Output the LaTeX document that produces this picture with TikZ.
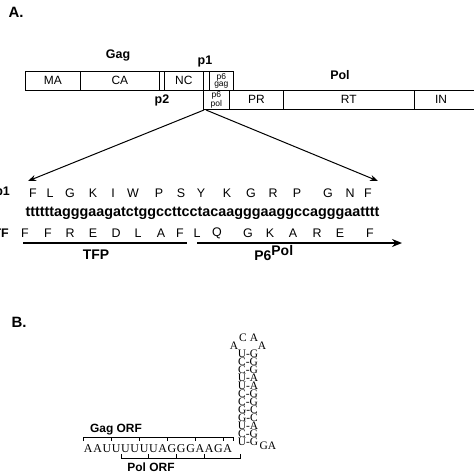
\documentclass[tikz,border=0pt]{standalone}
\usepackage{fontspec}
\setmainfont{Liberation Serif}
\setsansfont{Liberation Sans}
\usetikzlibrary{arrows.meta,positioning}
\tikzset{
  seg/.style={draw, line width=0.7bp, inner sep=0pt, anchor=north west,
    minimum height=19bp, font=\sffamily\fontsize{12}{12}\selectfont},
  small/.style={align=center, font=\sffamily\fontsize{8.5}{7.5}\selectfont},
  tag/.style={font=\sffamily\bfseries\fontsize{12.5}{13}\selectfont, inner sep=0pt},
  panel/.style={font=\sffamily\bfseries\fontsize{15}{15}\selectfont, inner sep=0pt},
  aa/.style={font=\sffamily\fontsize{12.5}{13}\selectfont, inner sep=0pt},
  nt/.style={font=\sffamily\bfseries\fontsize{14.4}{15}\selectfont, inner sep=0pt},
  rna/.style={font=\fontsize{11.5}{11}\selectfont, inner sep=0pt},
  link/.style={line width=1bp, -{Stealth[length=8bp,width=6bp]}},
  brak/.style={line width=0.6bp}
}
\begin{document}
\begin{tikzpicture}[x=1bp,y=-1bp]
    \useasboundingbox (0,0) rectangle (474,474);
    % Panel A
    \node[panel] (pa) at (16,12) {A.};
    \node[tag] (gag) at (118,55) {Gag};
    \node[tag] (pone) at (205,62) {p1};
    \node[tag] (pol) at (340,75) {Pol};
    \node[tag] (ptwo) at (162,100) {p2};
    % Gag row
    \node[seg, minimum width=55bp] (ma) at (25,71) {MA};
    \node[seg, minimum width=79bp] (ca) at (80,71) {CA};
    \node[seg, minimum width=5bp] (ptwobox) at (159,71) {};
    \node[seg, minimum width=39bp] (nc) at (164,71) {NC};
    \node[seg, minimum width=6bp] (ponebox) at (203,71) {};
    \node[seg, small, minimum width=24bp] (psixgag) at (209,71) {p6\\gag};
    % Pol row
    \node[seg, small, minimum width=26bp] (psixpol) at (203,90) {p6\\pol};
    \node[seg, minimum width=54bp] (pr) at (229,90) {PR};
    \node[seg, minimum width=131bp] (rt) at (283,90) {RT};
    \node[seg, minimum width=70bp] (inbox) at (414,90) {};
    \node[inner sep=0pt, font=\sffamily\fontsize{12}{12}\selectfont] (in) at (441,99.5) {IN};
    % Zoom in on the frameshift site
    \coordinate (fork) at (204,110);
    \coordinate (lefttip) at (28,181);
    \coordinate (righttip) at (378,181);
    \draw[link] (fork) -- (lefttip);
    \draw[link] ([xshift=2bp]fork) -- (righttip);
    % Gag-p1 frame
    \node[tag, anchor=east] (gagframe) at (10,193) {p1};
    \foreach \r/\x [count=\i] in {F/33,L/50,G/70,K/93,I/113,W/133,P/159,S/181,Y/201,K/227,G/251,R/273,P/297,G/328,N/350,F/368}
        \node[aa] (g\i) at (\x,193) {\r};
    \node[nt] (seq) at (202.5,213) {ttttttagggaagatctggccttcctacaagggaaggccagggaatttt};
    % TF frame
    \node[tag, anchor=east] (tfframe) at (9,233) {TF};
    \foreach \r/\x [count=\i] in {F/25,F/48,R/70,E/93,D/116,L/138,A/161,F/180,L/197,Q/217,G/248,K/270,A/293,R/317,E/340,F/370}
        \node[aa] (t\i) at (\x,233) {\r};
    \coordinate (tfpstart) at (23,243);
    \coordinate (tfpend) at (187,243);
    \coordinate (psixstart) at (197,243);
    \coordinate (psixend) at (402,243);
    \draw[line width=1.8bp] (tfpstart) -- (tfpend);
    \draw[line width=1.8bp, -{Stealth[length=10bp,width=8bp]}] (psixstart) -- (psixend);
    \node[tag, font=\sffamily\bfseries\fontsize{14}{14}\selectfont] (tfp) at (96,255) {TFP};
    \node[tag, font=\sffamily\bfseries\fontsize{14}{14}\selectfont] (psix) at (274,253) {P6$^{\mathrm{\textsf{Pol}}}$};
    % Panel B
    \node[panel] (pb) at (19,322) {B.};
    % loop
    \node[rna] (lc) at (243,338) {C};
    \node[rna] (la) at (254,338) {A};
    \node[rna] (lleft) at (234,346) {A};
    \node[rna] (lright) at (262,346) {A};
    % stem
    \foreach \p [count=\i] in {U-G,C-G,C-G,U-A,U-A,C-G,C-G,G-C,G-C,U-A,C-G,U-G}
        \node[rna] (st\i) at (248,346+8*\i) {\p};
    \node[rna, anchor=west] (tail) at ([xshift=1bp,yshift=-4bp]st12.east) {GA};
    % slippery sequence
    \foreach \b [count=\i] in {A,A,U,U,U,U,U,U,A,G,G,G,A,A,G,A}
        \node[rna, font=\fontsize{12}{12}\selectfont] (s\i) at (79+9.3*\i,449) {\b};
    % Gag ORF codons above
    \draw[brak] (83,441) -- (83,437) -- (233,437) -- (233,441);
    \foreach \k in {111,139,167,195,223}
        \draw[brak] (\k,437) -- (\k,441);
    \node[tag, font=\sffamily\bfseries\fontsize{12}{12}\selectfont] (gagorf) at (116,430) {Gag ORF};
    % Pol ORF codons below
    \draw[brak] (121,454) -- (121,458) -- (240,458) -- (240,454);
    \foreach \k in {148,176,204}
        \draw[brak] (\k,458) -- (\k,454);
    \node[tag, font=\sffamily\bfseries\fontsize{12}{12}\selectfont] (polorf) at (151,467) {Pol ORF};
\end{tikzpicture}
\end{document}
